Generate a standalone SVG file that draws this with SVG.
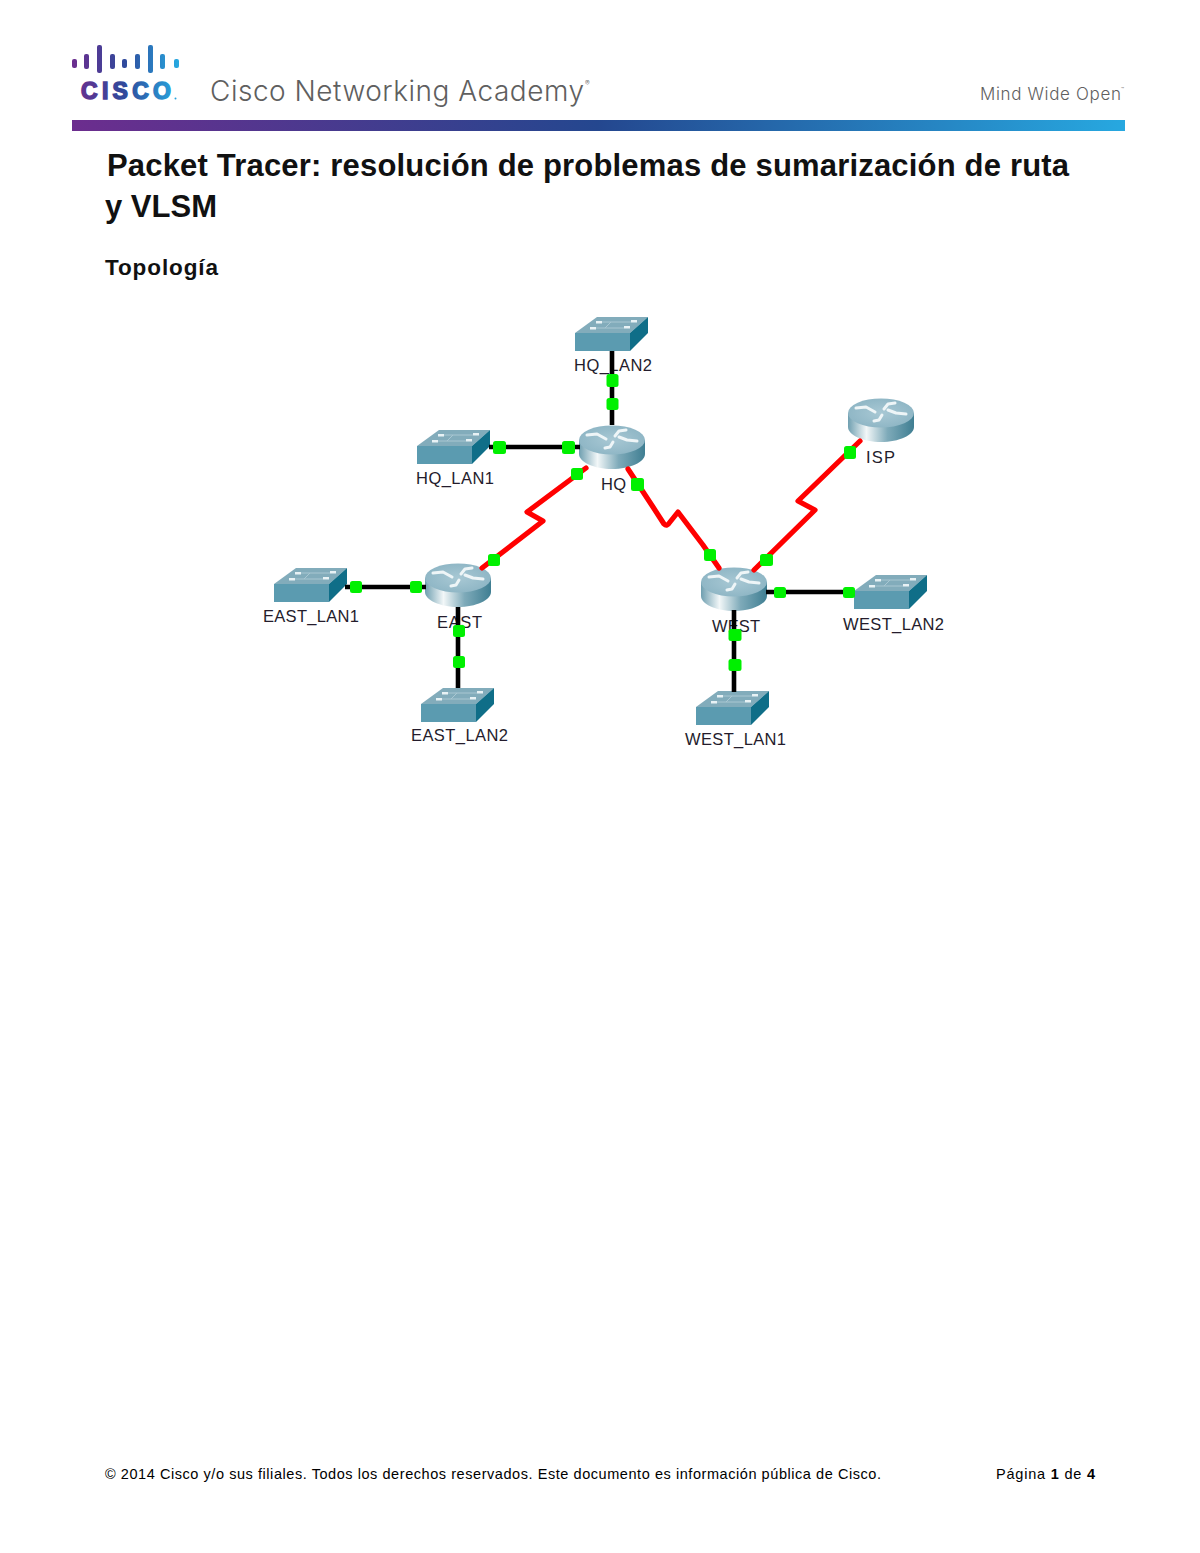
<svg xmlns="http://www.w3.org/2000/svg" xmlns:xlink="http://www.w3.org/1999/xlink" width="1200" height="1553" viewBox="0 0 1200 1553">
<style>
text{font-family:"Liberation Sans",Arial,sans-serif;}
.title{font-size:31px;font-weight:bold;fill:#111;}
.h2{font-size:22.500px;font-weight:bold;fill:#111;}
.lbl{font-size:16.500px;fill:#241c2c;}
.foot{font-size:14.500px;fill:#000;}
.eth{fill:none;stroke:#000;stroke-width:4.600;}
.ser{fill:none;stroke:#f00;stroke-width:5.200;stroke-linejoin:round;stroke-linecap:round;}
.dot{fill:#00f000;}
.hdr{fill:#5f5f5f;font-family:Inter,"Liberation Sans",sans-serif;font-weight:300;}
</style>
<defs>
<linearGradient id="bar" x1="0" x2="1" y1="0" y2="0">
<stop offset="0" stop-color="#6c2d8e"/><stop offset="0.5" stop-color="#24478f"/><stop offset="1" stop-color="#27a8e0"/>
</linearGradient>
<linearGradient id="logo" gradientUnits="userSpaceOnUse" x1="72" x2="178" y1="0" y2="0">
<stop offset="0" stop-color="#6c2d8e"/><stop offset="0.5" stop-color="#2f4a9c"/><stop offset="1" stop-color="#27a8e0"/>
</linearGradient>
<linearGradient id="rbody" x1="0" x2="1" y1="0" y2="0">
<stop offset="0" stop-color="#6f9fb0"/><stop offset="0.28" stop-color="#f2f7f8"/><stop offset="0.6" stop-color="#7eaab9"/><stop offset="1" stop-color="#3f7e92"/>
</linearGradient>
<radialGradient id="rtop" cx="0.5" cy="0.5" r="0.7">
<stop offset="0" stop-color="#a8c8d4"/><stop offset="1" stop-color="#86b0c0"/>
</radialGradient>
<g id="router">
<path d="M0 15V29C0 37 15 44 33 44S66 37 66 29V15Z" fill="url(#rbody)"/>
<ellipse cx="33" cy="15" rx="33" ry="14.500" fill="url(#rtop)"/>
<g fill="none" stroke="#eef5f7" stroke-width="3" stroke-linecap="round" stroke-linejoin="round">
<path d="M8 10L18 9L27 14"/><path d="M58 16L48 15L40 12"/><path d="M26 23L31 22L34 17"/><path d="M36 11L40 6L47 5"/>
</g>
</g>
<g id="switch">
<polygon points="0,17 22,1 73,1 55,17" fill="#82acbb"/>
<polygon points="55,17 73,1 73,17 55,35" fill="#0f6e88"/>
<rect x="0" y="17" width="55" height="18" fill="#5b9bb0"/>
<g fill="#e8f2f5">
<rect x="21" y="5" width="6" height="2.500"/><rect x="56" y="4" width="6" height="2.500"/><rect x="15" y="11" width="6" height="2.500"/><rect x="49" y="10" width="6" height="2.500"/>
</g>
<g fill="none" stroke="#a9c7d2" stroke-width="1">
<path d="M27 6H56M21 12H49M36 6L30 12"/>
</g>
</g>
</defs>

<g id="header">
<g fill="url(#logo)">
<rect x="72" y="59" width="5" height="9" rx="2"/>
<rect x="84" y="54" width="5" height="15" rx="2"/>
<rect x="97" y="45" width="5" height="28" rx="2"/>
<rect x="110" y="54" width="5" height="15" rx="2"/>
<rect x="122" y="59" width="5" height="9" rx="2"/>
<rect x="135" y="54" width="5" height="15" rx="2"/>
<rect x="148" y="45" width="5" height="28" rx="2"/>
<rect x="160" y="54" width="5" height="15" rx="2"/>
<rect x="174" y="59" width="5" height="9" rx="2"/>
<text x="81" y="99" font-size="23" font-weight="bold" textLength="90" lengthAdjust="spacing" style="stroke:url(#logo);stroke-width:1.500">CISCO</text>
<circle cx="175.500" cy="98.500" r="1"/>
</g>
<text class="hdr" x="210" y="101" font-size="28" textLength="374">Cisco Networking Academy</text>
<text class="hdr" x="585" y="86" font-size="7">®</text>
<text class="hdr" x="980" y="100" font-size="17" textLength="141">Mind Wide Open</text>
<text class="hdr" x="1121" y="91" font-size="5">™</text>
<rect x="72" y="120" width="1053" height="11" fill="url(#bar)"/>
</g>

<g id="heading">
<text class="title" x="107" y="176" textLength="962">Packet Tracer: resolución de problemas de sumarización de ruta</text>
<text class="title" x="105" y="217" textLength="112">y VLSM</text>
<text class="h2" x="105" y="275" textLength="113">Topología</text>
</g>

<g id="HQ_LAN2"><use xlink:href="#switch" href="#switch" x="575" y="316"/><text class="lbl" x="574" y="371" textLength="78">HQ_LAN2</text></g>
<g id="HQ_LAN1"><use xlink:href="#switch" href="#switch" x="417" y="429"/><text class="lbl" x="416" y="484" textLength="78">HQ_LAN1</text></g>
<g id="HQ"><use xlink:href="#router" href="#router" x="579" y="425"/><text class="lbl" x="601" y="490" textLength="25">HQ</text></g>
<g id="ISP"><use xlink:href="#router" href="#router" x="848" y="398"/><text class="lbl" x="866" y="463" textLength="29">ISP</text></g>
<g id="EAST"><use xlink:href="#router" href="#router" x="425" y="563"/><text class="lbl" x="437" y="628" textLength="45">EAST</text></g>
<g id="WEST"><use xlink:href="#router" href="#router" x="701" y="567"/><text class="lbl" x="712" y="632" textLength="48">WEST</text></g>
<g id="EAST_LAN1"><use xlink:href="#switch" href="#switch" x="274" y="567"/><text class="lbl" x="263" y="622" textLength="96">EAST_LAN1</text></g>
<g id="EAST_LAN2"><use xlink:href="#switch" href="#switch" x="421" y="687"/><text class="lbl" x="411" y="741" textLength="97">EAST_LAN2</text></g>
<g id="WEST_LAN1"><use xlink:href="#switch" href="#switch" x="696" y="690"/><text class="lbl" x="685" y="745" textLength="101">WEST_LAN1</text></g>
<g id="WEST_LAN2"><use xlink:href="#switch" href="#switch" x="854" y="574"/><text class="lbl" x="843" y="630" textLength="101">WEST_LAN2</text></g>

<g id="connectors">
<path class="eth" d="M612 351V425"/>
<path class="eth" d="M489 447H580"/>
<path class="eth" d="M345 587H426"/>
<path class="eth" d="M458 607V688"/>
<path class="eth" d="M734 610V692"/>
<path class="eth" d="M766 592H855"/>
<path class="ser" d="M586 468L527 512L543 521L482 568"/>
<path class="ser" d="M628 469L653 507L664 524Q667 527 670 522L678 512L703 545L719 568"/>
<path class="ser" d="M860 441L798 501L815 510L754 570"/>
<g class="dot">
<rect x="606.500" y="374" width="12" height="13" rx="2.500"/>
<rect x="606.500" y="398" width="12" height="12" rx="2.500"/>
<rect x="493" y="441" width="13" height="13" rx="2.500"/>
<rect x="562" y="441" width="13" height="13" rx="2.500"/>
<rect x="571" y="468" width="12" height="12" rx="2.500"/>
<rect x="488" y="554" width="12" height="12" rx="2.500"/>
<rect x="631" y="478" width="13" height="13" rx="2.500"/>
<rect x="704" y="549" width="12" height="12" rx="2.500"/>
<rect x="844" y="446" width="12" height="13" rx="2.500"/>
<rect x="760" y="554" width="13" height="12" rx="2.500"/>
<rect x="350" y="581" width="12" height="12" rx="2.500"/>
<rect x="410" y="581" width="12" height="12" rx="2.500"/>
<rect x="453" y="625" width="12" height="12" rx="2.500"/>
<rect x="453" y="656" width="12" height="12" rx="2.500"/>
<rect x="774" y="587" width="12" height="11" rx="2.500"/>
<rect x="843" y="587" width="12" height="11" rx="2.500"/>
<rect x="728.500" y="629" width="13" height="12" rx="2.500"/>
<rect x="728.500" y="659" width="13" height="12" rx="2.500"/>
</g>
</g>

<g id="footer">
<text class="foot" x="105" y="1479" textLength="776">© 2014 Cisco y/o sus filiales. Todos los derechos reservados. Este documento es información pública de Cisco.</text>
<text class="foot" x="996" y="1479" textLength="99">Página <tspan font-weight="bold">1</tspan> de <tspan font-weight="bold">4</tspan></text>
</g>
</svg>
